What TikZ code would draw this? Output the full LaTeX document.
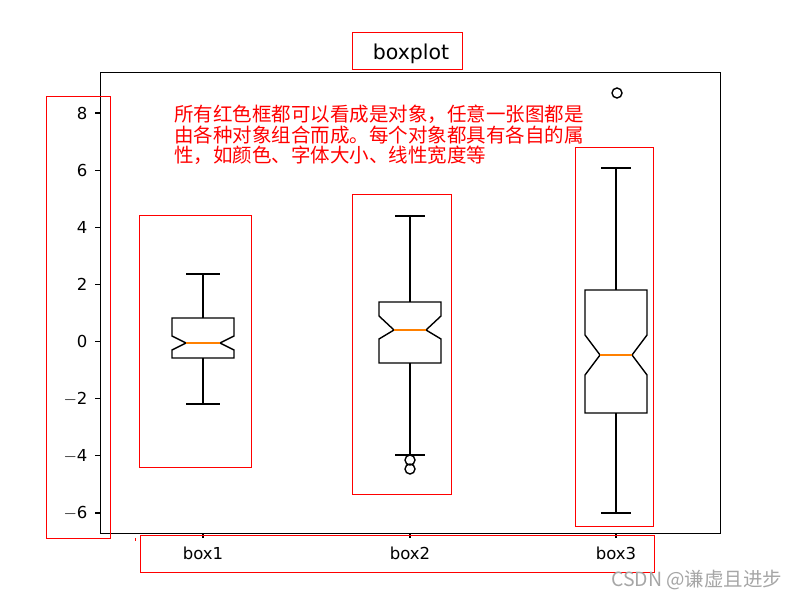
\documentclass[tikz,border=0pt]{standalone}
\usepackage{fontspec}
\setmainfont{DejaVu Sans}
\newfontfamily\cjk{Noto Sans CJK SC}
\begin{document}
\begin{tikzpicture}[x=1pt,y=-1pt,
  redbox/.style={draw=red,line width=1pt},
  bx/.style={draw=black,line width=1.4pt},
  med/.style={draw=orange,line width=1.4pt},
  lab/.style={font=\fontsize{16.5}{18}\selectfont}]
\useasboundingbox (0,0) rectangle (800,600);
\node[draw,line width=1.1pt,minimum width=620pt,minimum height=461pt,anchor=north west,inner sep=0] (ax) at (100,72) {};
\node[font=\fontsize{20.5}{22}\selectfont] (title) at (411,54) {boxplot};
% y ticks
\foreach \v/\t in {8/8,6/6,4/4,2/2,0/0,-2/{$-$2},-4/{$-$4},-6/{$-$6}}{
  \draw[line width=1.1pt] (100,{341.6-28.57*\v}) -- (95,{341.6-28.57*\v});
  \node[lab,anchor=east] at (91,{341.6-28.57*\v}) {\t};}
\foreach \x/\n in {203/box1,410/box2,616/box3}{
  \draw[line width=1.1pt] (\x,533) -- (\x,538);
  \node[lab] at (\x,553) {\n};}
% box1
\draw[bx] (203,274)--(203,318) (186,274)--(220,274) (203,358)--(203,404) (186,404)--(220,404);
\draw[bx] (172,318)--(234,318)--(234,336)--(220,343)--(234,350)--(234,358)--(172,358)--(172,350)--(186,343)--(172,336)--cycle;
\draw[med] (186,343)--(220,343);
% box2
\draw[bx] (410,216)--(410,302) (395,216)--(425,216) (410,363)--(410,455) (395,455)--(425,455);
\draw[bx] (379,302)--(441,302)--(441,316)--(426,330)--(441,339)--(441,363)--(379,363)--(379,339)--(394,330)--(379,316)--cycle;
\draw[med] (394,330)--(426,330);
\draw[line width=1.4pt] (410,460) circle (5) (410,469) circle (5);
% box3
\draw[bx] (616,168)--(616,290) (601,168)--(631,168) (616,413)--(616,513) (601,513)--(631,513);
\draw[bx] (585,290)--(647,290)--(647,335)--(632,355)--(647,375)--(647,413)--(585,413)--(585,375)--(600,355)--(585,335)--cycle;
\draw[med] (600,355)--(632,355);
\draw[line width=1.4pt] (617,93) circle (5);
% red rects
\draw[redbox] (352,32) rectangle (462,69);
\draw[redbox] (46,96) rectangle (110,538);
\draw[redbox] (139,215) rectangle (251,467);
\draw[redbox] (352,194) rectangle (451,494);
\draw[redbox] (575,147) rectangle (653,526);
\draw[redbox] (140,535) rectangle (654,572);
\fill[red] (134.5,538) rectangle (136,540.5);
\node[anchor=north west,text=red,align=left,inner sep=0,font=\cjk\fontsize{19.5}{20.5}\selectfont] (txt) at (174,105) {所有红色框都可以看成是对象，任意一张图都是\\由各种对象组合而成。每个对象都具有各自的属\\性，如颜色、字体大小、线性宽度等};
\node[anchor=east,text=gray!70,font=\cjk\fontsize{19.5}{22}\selectfont] (wm) at (786,580) {CSDN @谦虚且进步};
\end{tikzpicture}
\end{document}
